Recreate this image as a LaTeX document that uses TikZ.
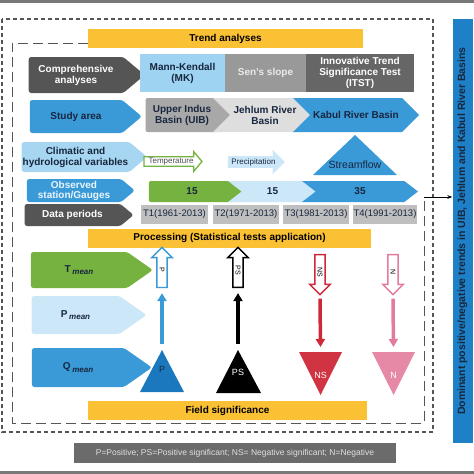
\documentclass[tikz,border=0pt]{standalone}
\usepackage{fontspec}
\setmainfont{Liberation Sans}
\usetikzlibrary{arrows.meta, positioning, shapes.symbols, shapes.arrows}
\definecolor{darkgrey}{RGB}{85,85,85}
\definecolor{riverblue}{RGB}{58,154,216}
\definecolor{skyblue}{RGB}{166,214,241}
\definecolor{paleblue}{RGB}{204,231,248}
\definecolor{mkblue}{RGB}{158,211,242}
\definecolor{leafgreen}{RGB}{118,178,64}
\definecolor{sunyellow}{RGB}{251,193,52}
\definecolor{posblue}{RGB}{28,120,190}
\definecolor{negred}{RGB}{206,40,56}
\definecolor{negpink}{RGB}{226,124,156}
\definecolor{txtdark}{RGB}{24,38,62}
\definecolor{bargrey}{RGB}{120,120,120}
\definecolor{barblue}{RGB}{30,128,198}
\newcommand{\lblfont}{\fontsize{10}{11}\selectfont\bfseries}
\tikzset{
  rowarrow/.style={signal, signal to=east, signal pointer angle=80, rounded corners=2.5pt,
    inner sep=1pt, align=center, font=\lblfont, text=txtdark},
  chevron/.style={signal, signal to=east, signal pointer angle=90, inner sep=1pt,
    align=center, font=\lblfont, text=txtdark},
  yellowbar/.style={fill=sunyellow, minimum height=19pt, font=\lblfont, text=black},
  topbox/.style={minimum height=38pt, inner sep=1pt, align=center, font=\lblfont},
  period/.style={fill=black!25, minimum height=19pt, inner sep=0pt,
    font=\fontsize{9.5}{9.5}\selectfont, text=txtdark},
  hollow/.style={single arrow, rotate=-90, line width=1.4pt, fill=white,
    single arrow head extend=5pt, single arrow tip angle=90, minimum height=40pt,
    inner xsep=1pt, inner ysep=2pt, font=\fontsize{7}{7}\selectfont},
  solidup/.style={line width=3.5pt, -{Triangle[width=9pt,length=8pt]}},
  shortdash/.style={draw=darkgrey, line width=1.3pt, dash pattern=on 4pt off 3pt},
  longdash/.style={draw=darkgrey, line width=1pt, dash pattern=on 10pt off 5pt}
}
\begin{document}
\begin{tikzpicture}[x=1pt, y=-1pt]
  \useasboundingbox (0,0) rectangle (474,474);
  % Frame
  \fill[bargrey] (0,0) rectangle (474,2.5);
  \fill[bargrey] (0,471) rectangle (474,474);
  \draw[shortdash] (2,19) rectangle (433,432);

  % Yellow bars
  \node[yellowbar, minimum width=275pt] (trendbar) at (225.5,38.5) {Trend analyses};
  \node[yellowbar, minimum width=283pt] (procbar) at (229.5,238) {Processing (Statistical tests application)};
  \node[yellowbar, minimum width=279pt] (fieldbar) at (227.5,410.5) {Field significance};

  % Row 1
  \node[rowarrow, fill=darkgrey, text=white, minimum width=116pt, minimum height=36pt] (comp) at (76,75) {Comprehensive\\analyses};
  \node[topbox, fill=mkblue, text=txtdark, minimum width=85pt] (mk) at (182.5,73) {Mann-Kendall\\(MK)};
  \node[topbox, fill=black!40, text=black!8, minimum width=81pt] (sen) at (265.5,73) {Sen's slope};
  \node[topbox, fill=black!60, text=white, minimum width=108pt] (itst) at (360,73) {Innovative Trend\\Significance Test\\(ITST)};

  % Row 2
  \node[rowarrow, fill=riverblue, minimum width=112pt, minimum height=33pt] (study) at (76,116.5) {Study area};
  \node[chevron, fill=black!34, rounded corners=2pt, minimum width=90pt, minimum height=34pt] (uib) at (182,115) {Upper Indus\\Basin (UIB)};
  \node[chevron, signal from=west, fill=black!13, minimum width=104pt, minimum height=34pt] (jehlum) at (265,115) {Jehlum River\\Basin};
  \node[chevron, signal from=west, fill=riverblue, minimum width=126pt, minimum height=34pt] (kabul) at (356,115) {Kabul River Basin};

  % Row 3
  \node[rowarrow, fill=skyblue, minimum width=115pt, minimum height=30pt] (clim) at (75.5,157) {Climatic and\\hydrological variables};
  \node[single arrow, draw=leafgreen, line width=1.3pt, fill=white, minimum height=58pt,
    single arrow head extend=5pt, single arrow tip angle=100, inner xsep=1pt, inner ysep=0.5pt,
    font=\fontsize{8}{8}\selectfont, text=black!70] (temp) at (171,161.5) {Temperature};
  \node[single arrow, fill=paleblue, minimum height=57pt, single arrow head extend=6.5pt,
    single arrow tip angle=90, inner xsep=1pt, inner ysep=2pt,
    font=\fontsize{8}{8}\selectfont, text=txtdark] (prec) at (253.5,162) {Precipitation};
  \fill[riverblue] (355,135) -- (313,175) -- (397,175) -- cycle;
  \node[font=\fontsize{10.5}{10.5}\selectfont, text=txtdark] (stream) at (355,165) {Streamflow};

  % Row 4
  \node[rowarrow, fill=riverblue, text=white!90!riverblue, minimum width=108pt, minimum height=23pt,
    inner sep=0pt, font=\fontsize{10}{10}\selectfont\bfseries] (obs) at (74,190.5) {Observed\\station/Gauges};
  \node[chevron, signal pointer angle=75, fill=leafgreen, rounded corners=2pt, minimum width=100pt, minimum height=21pt] (gtemp) at (192,191.5) {15};
  \node[chevron, signal pointer angle=75, signal from=west, fill=paleblue, minimum width=89pt, minimum height=21pt] (gprec) at (272.5,191.5) {15};
  \node[chevron, signal pointer angle=75, signal from=west, fill=riverblue, minimum width=116pt, minimum height=21pt] (gflow) at (360,191.5) {35};

  % Row 5
  \node[rowarrow, fill=darkgrey, text=white, minimum width=109pt, minimum height=22pt] (data) at (72.5,215) {Data periods};
  \node[period, minimum width=67pt] (t1) at (174.5,214.5) {T1(1961-2013)};
  \node[period, minimum width=66pt] (t2) at (246,214.5) {T2(1971-2013)};
  \node[period, minimum width=66pt] (t3) at (316,214.5) {T3(1981-2013)};
  \node[period, minimum width=64pt] (t4) at (385,214.5) {T4(1991-2013)};

  % Variables
  \node[rowarrow, signal pointer angle=70, fill=leafgreen, minimum width=122pt, minimum height=36pt] (tmean) at (79,270) {T\,\raisebox{-0.5ex}{\fontsize{8}{8}\selectfont\itshape mean}};
  \node[rowarrow, signal pointer angle=70, fill=paleblue, minimum width=115pt, minimum height=38pt] (pmean) at (75.5,315) {P\,\raisebox{-0.5ex}{\fontsize{8}{8}\selectfont\itshape mean}};
  \node[rowarrow, signal pointer angle=70, fill=riverblue, minimum width=120pt, minimum height=39pt] (qmean) at (78,367.5) {Q\,\raisebox{-0.5ex}{\fontsize{8}{8}\selectfont\itshape mean}};

  % Trend columns
  \node[hollow, draw=riverblue, shape border rotate=180] (hP) at (162,270) {P};
  \node[hollow, draw=black, shape border rotate=180] (hPS) at (238,270) {PS};
  \node[hollow, draw=negred] (hNS) at (320,272) {NS};
  \node[hollow, draw=negpink] (hN) at (393,272) {N};

  \coordinate (apP) at (162,350);
  \coordinate (apPS) at (238,350);
  \coordinate (topNS) at (320.5,352);
  \coordinate (topN) at (393.5,352);
  \fill[posblue] (apP) -- (140,392) -- (184,392) -- cycle;
  \fill[black] (apPS) -- (216,393) -- (261,393) -- cycle;
  \fill[negred!95!white] (299,352) -- (342,352) -- (320.5,395) -- cycle;
  \fill[negpink!90!white] (372,352) -- (415,352) -- (393.5,395) -- cycle;
  \node[font=\fontsize{9}{9}\selectfont, text=txtdark] (lP) at (162,369) {P};
  \node[font=\fontsize{9}{9}\selectfont, text=white] (lPS) at (238,372) {PS};
  \node[font=\fontsize{9}{9}\selectfont, text=white] (lNS) at (320.5,375) {NS};
  \node[font=\fontsize{9}{9}\selectfont, text=white] (lN) at (393.5,375) {N};

  \draw[solidup, riverblue, shorten <=6pt, shorten >=5pt] (apP) -- (hP.tail);
  \draw[solidup, black, shorten <=6pt, shorten >=5pt] (apPS) -- (hPS.tail);
  \draw[solidup, negred, shorten <=3pt, shorten >=5pt] (hNS.tip) -- (topNS);
  \draw[solidup, negpink, shorten <=3pt, shorten >=5pt] (hN.tip) -- (topN);

  % Result bar
  \node[fill=barblue, rotate=90, minimum width=424pt, minimum height=20pt, inner sep=0pt,
    font=\fontsize{10.5}{10.5}\selectfont\bfseries, text=txtdark] (trend) at (462.5,231) {Dominant positive/negative trends in UIB, Jehlum and Kabul River Basins};
  \coordinate (brk) at (424,197);
  \draw[longdash] (trendbar.west |- 0,43) -- (12,43) -- (12,423) -- (424,423) -- (brk);
  \draw[-{Stealth[length=5pt]}, line width=0.8pt] (brk) -- (brk -| trend.north);

  % Legend
  \node[fill=black!58, text=black!12, minimum width=322pt, minimum height=20pt,
    font=\fontsize{8.5}{8.5}\selectfont] (legend) at (235,453) {P=Positive; PS=Positive significant; NS= Negative significant; N=Negative};
\end{tikzpicture}
\end{document}
